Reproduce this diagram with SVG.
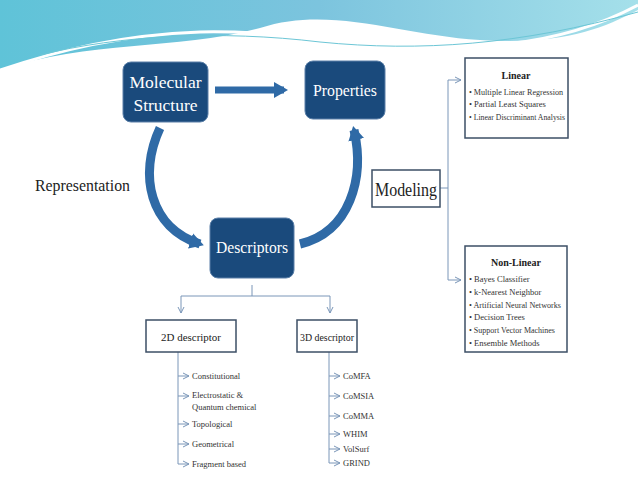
<svg xmlns="http://www.w3.org/2000/svg" width="638" height="478" viewBox="0 0 638 478">
<defs>
<linearGradient id="wave" x1="0" y1="0" x2="1" y2="0">
<stop offset="0" stop-color="#5fc3d8"/><stop offset="0.5" stop-color="#7cc4de"/><stop offset="1" stop-color="#a5e0ea"/>
</linearGradient>
<marker id="ah" markerWidth="8" markerHeight="8" refX="7" refY="4" orient="auto" markerUnits="userSpaceOnUse">
<path d="M1,1 L7,4 L1,7" fill="none" stroke="#7a96b8" stroke-width="1"/>
</marker>
<marker id="big" markerWidth="20" markerHeight="20" refX="10" refY="10" orient="auto" markerUnits="userSpaceOnUse">
<path d="M0,2 L14,10 L0,18 Z" fill="#2f6aa6"/>
</marker>
<style>
.dk{fill:#1a4a7c;stroke:#5a7fa8;stroke-width:1}
.dt{font-family:'Liberation Serif',serif;font-size:17px;fill:#fff;text-anchor:middle}
.bx{fill:#fff;stroke:#3d4f66;stroke-width:1.5}
.sm{font-family:'Liberation Serif',serif;font-size:8.5px;fill:#333}
.ln{fill:none;stroke:#7a96b8;stroke-width:1}
</style>
</defs>
<rect width="638" height="478" fill="#fff"/>
<path d="M0,0 H638 V10 C600,30 560,45 480,40 C400,35 330,5 260,28 C180,50 90,40 0,70 Z" fill="url(#wave)"/>
<path d="M0,70 C60,50 120,35 200,32 C300,30 360,50 480,46 C560,42 610,20 638,5" fill="none" stroke="#fff" stroke-width="3"/>
<path d="M40,55 C120,35 220,30 320,42 C420,52 520,45 638,12" fill="none" stroke="#6cc6d6" stroke-width="1"/>
<g id="connectors">
<path d="M215,90 H284" stroke="#2f6aa6" stroke-width="7" fill="none" marker-end="url(#big)"/>
<path d="M160,128 C138,175 150,228 200,244" stroke="#2f6aa6" stroke-width="9" fill="none" marker-end="url(#big)"/>
<path d="M300,244 C350,232 365,178 354,130" stroke="#2f6aa6" stroke-width="9" fill="none" marker-end="url(#big)"/>
<path class="ln" d="M440,188 H448 M448,80 V280"/>
<path class="ln" d="M448,80 H461" marker-end="url(#ah)"/>
<path class="ln" d="M448,280 H461" marker-end="url(#ah)"/>
<path class="ln" d="M252,285 V296 M181,296 H330"/>
<path class="ln" d="M181,296 V313" marker-end="url(#ah)"/>
<path class="ln" d="M330,296 V313" marker-end="url(#ah)"/>
<path class="ln" d="M178,352 V464 M329,352 V463"/>
<g class="ln">
<path d="M178,376 H189" marker-end="url(#ah)"/><path d="M178,396 H189" marker-end="url(#ah)"/><path d="M178,424 H189" marker-end="url(#ah)"/><path d="M178,444 H189" marker-end="url(#ah)"/><path d="M178,464 H189" marker-end="url(#ah)"/>
<path d="M329,376 H340" marker-end="url(#ah)"/><path d="M329,396 H340" marker-end="url(#ah)"/><path d="M329,416 H340" marker-end="url(#ah)"/><path d="M329,434 H340" marker-end="url(#ah)"/><path d="M329,449 H340" marker-end="url(#ah)"/><path d="M329,463 H340" marker-end="url(#ah)"/>
</g>
</g>
<g id="molecular"><rect class="dk" x="123" y="62" width="85" height="60" rx="8"/><text class="dt" x="165.5" y="88" textLength="72" lengthAdjust="spacingAndGlyphs">Molecular</text><text class="dt" x="165.5" y="111" textLength="64" lengthAdjust="spacingAndGlyphs">Structure</text></g>
<g id="properties"><rect class="dk" x="305" y="61" width="80" height="58" rx="8"/><text class="dt" x="345" y="96" textLength="64" lengthAdjust="spacingAndGlyphs">Properties</text></g>
<g id="descriptors"><rect class="dk" x="210" y="218" width="84" height="60" rx="8"/><text class="dt" x="252" y="253" textLength="72" lengthAdjust="spacingAndGlyphs">Descriptors</text></g>
<g id="representation"><text x="35" y="191" font-family="'Liberation Serif',serif" font-size="17" fill="#222" textLength="95" lengthAdjust="spacingAndGlyphs">Representation</text></g>
<g id="modeling"><rect class="bx" x="372" y="170" width="68" height="37"/><text x="406" y="196" font-family="'Liberation Serif',serif" font-size="18" fill="#222" text-anchor="middle" textLength="62" lengthAdjust="spacingAndGlyphs">Modeling</text></g>
<g id="linear"><rect class="bx" x="465" y="58" width="103" height="80"/>
<text x="516" y="79" font-family="'Liberation Serif',serif" font-size="10" font-weight="bold" fill="#222" text-anchor="middle">Linear</text>
<text class="sm" x="469" y="95" textLength="94" lengthAdjust="spacingAndGlyphs">• Multiple Linear Regression</text><text class="sm" x="469" y="107">• Partial Least Squares</text><text class="sm" x="469" y="120" textLength="96" lengthAdjust="spacingAndGlyphs">• Linear Discriminant Analysis</text></g>
<g id="nonlinear"><rect class="bx" x="465" y="246" width="102" height="106"/>
<text x="516" y="266" font-family="'Liberation Serif',serif" font-size="10" font-weight="bold" fill="#222" text-anchor="middle">Non-Linear</text>
<text class="sm" x="469" y="282">• Bayes Classifier</text><text class="sm" x="469" y="295">• k-Nearest Neighbor</text><text class="sm" x="469" y="308" textLength="92" lengthAdjust="spacingAndGlyphs">• Artificial Neural Networks</text><text class="sm" x="469" y="320">• Decision Trees</text><text class="sm" x="469" y="333" textLength="86" lengthAdjust="spacingAndGlyphs">• Support Vector Machines</text><text class="sm" x="469" y="346">• Ensemble Methods</text></g>
<g id="d2"><rect class="bx" x="146" y="320" width="90" height="32"/><text x="191" y="341" font-family="'Liberation Serif',serif" font-size="11" fill="#222" text-anchor="middle" textLength="60" lengthAdjust="spacingAndGlyphs">2D descriptor</text></g>
<g id="d3"><rect class="bx" x="297" y="320" width="60" height="32"/><text x="327" y="341" font-family="'Liberation Serif',serif" font-size="11" fill="#222" text-anchor="middle" textLength="54" lengthAdjust="spacingAndGlyphs">3D descriptor</text></g>
<g id="items2d" class="sm"><text x="192" y="379">Constitutional</text><text x="192" y="398">Electrostatic &amp;</text><text x="192" y="410">Quantum chemical</text><text x="192" y="427">Topological</text><text x="192" y="447">Geometrical</text><text x="192" y="467">Fragment based</text></g>
<g id="items3d" class="sm"><text x="343" y="379">CoMFA</text><text x="343" y="399">CoMSIA</text><text x="343" y="419">CoMMA</text><text x="343" y="437">WHIM</text><text x="343" y="452">VolSurf</text><text x="343" y="466">GRIND</text></g>
</svg>
